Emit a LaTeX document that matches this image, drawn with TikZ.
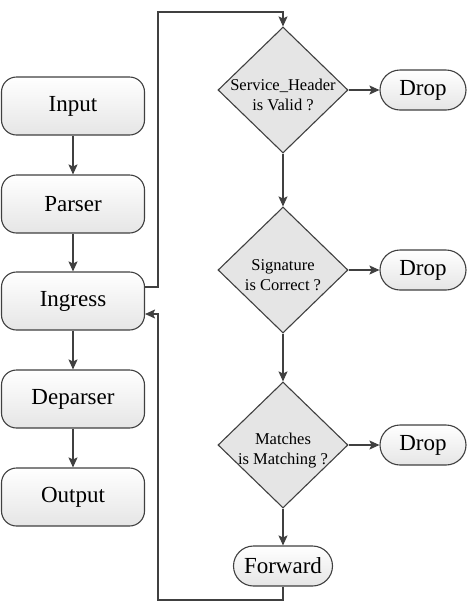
\documentclass[tikz,border=0pt]{standalone}
\usepackage{fontspec}
\newfontfamily\tnr{LiberationSerif}[Extension=.ttf,UprightFont=*-Regular]
\usetikzlibrary{shapes.geometric,arrows.meta,calc}
\begin{document}
\begin{tikzpicture}[x=1pt,y=-1pt,
  line/.style={draw=black!75,line width=1.1pt},
  arr/.style={line,-{Stealth[length=10pt,width=9pt,inset=2pt]}},
  pbox/.style={draw=black!75,line width=1.1pt,rounded corners=15pt,minimum width=143pt,minimum height=58pt,top color=white,bottom color=black!10,font=\tnr\fontsize{23}{26}\selectfont,inner sep=0pt},
  term/.style={draw=black!75,line width=1.1pt,rounded corners=20pt,minimum height=40pt,top color=white,bottom color=black!10,font=\tnr\fontsize{23}{26}\selectfont,inner sep=0pt},
  dia/.style={draw=black!75,line width=1.1pt,diamond,fill=black!10,inner sep=0pt,minimum width=130pt,minimum height=126pt},
  dtext/.style={align=center,font=\tnr\fontsize{16.5}{20}\selectfont,inner sep=0pt}
]
\useasboundingbox (0,0) rectangle (474,614);
\node[pbox] (in) at (73,106) {Input};
\node[pbox] (pa) at (73,204) {Parser};
\node[pbox] (ing) at (73,301) {Ingress};
\node[pbox] (de) at (73,399) {Deparser};
\node[pbox] (out) at (73,497) {Output};
\node[dia] (d1) at (283,90) {};
\node[dtext] (t1) at (283,95) {Service\_Header\\is Valid ?};
\node[dia] (d2) at (283,270) {};
\node[dtext] (t2) at (283,275) {Signature\\is Correct ?};
\node[dia] (d3) at (283,445) {};
\node[dtext] (t3) at (283,451) {Matches\\is Matching ?};
\node[term,minimum width=86pt] (x1) at (423,90) {Drop};
\node[term,minimum width=86pt] (x2) at (423,270) {Drop};
\node[term,minimum width=86pt] (x3) at (423,445) {Drop};
\node[term,minimum width=99pt] (fw) at (283,566) {Forward};
\coordinate (a1) at (158,287);
\coordinate (a2) at (158,12);
\coordinate (b1) at (283,600);
\coordinate (b2) at (158,600);
\coordinate (b3) at (158,314);
\draw[arr] (in) -- (pa);
\draw[arr] (pa) -- (ing);
\draw[arr] (ing) -- (de);
\draw[arr] (de) -- (out);
\draw[arr] (ing.east |- a1) -- (a1) -- (a2) -- (d1.north |- a2) -- (d1.north);
\draw[arr] (d1) -- (x1);
\draw[arr] (d2) -- (x2);
\draw[arr] (d3) -- (x3);
\draw[arr] (d1) -- (d2);
\draw[arr] (d2) -- (d3);
\draw[arr] (d3) -- (fw);
\draw[arr] (fw.south) -- (b1) -- (b2) -- (b3) -- (ing.east |- b3);
\end{tikzpicture}
\end{document}
